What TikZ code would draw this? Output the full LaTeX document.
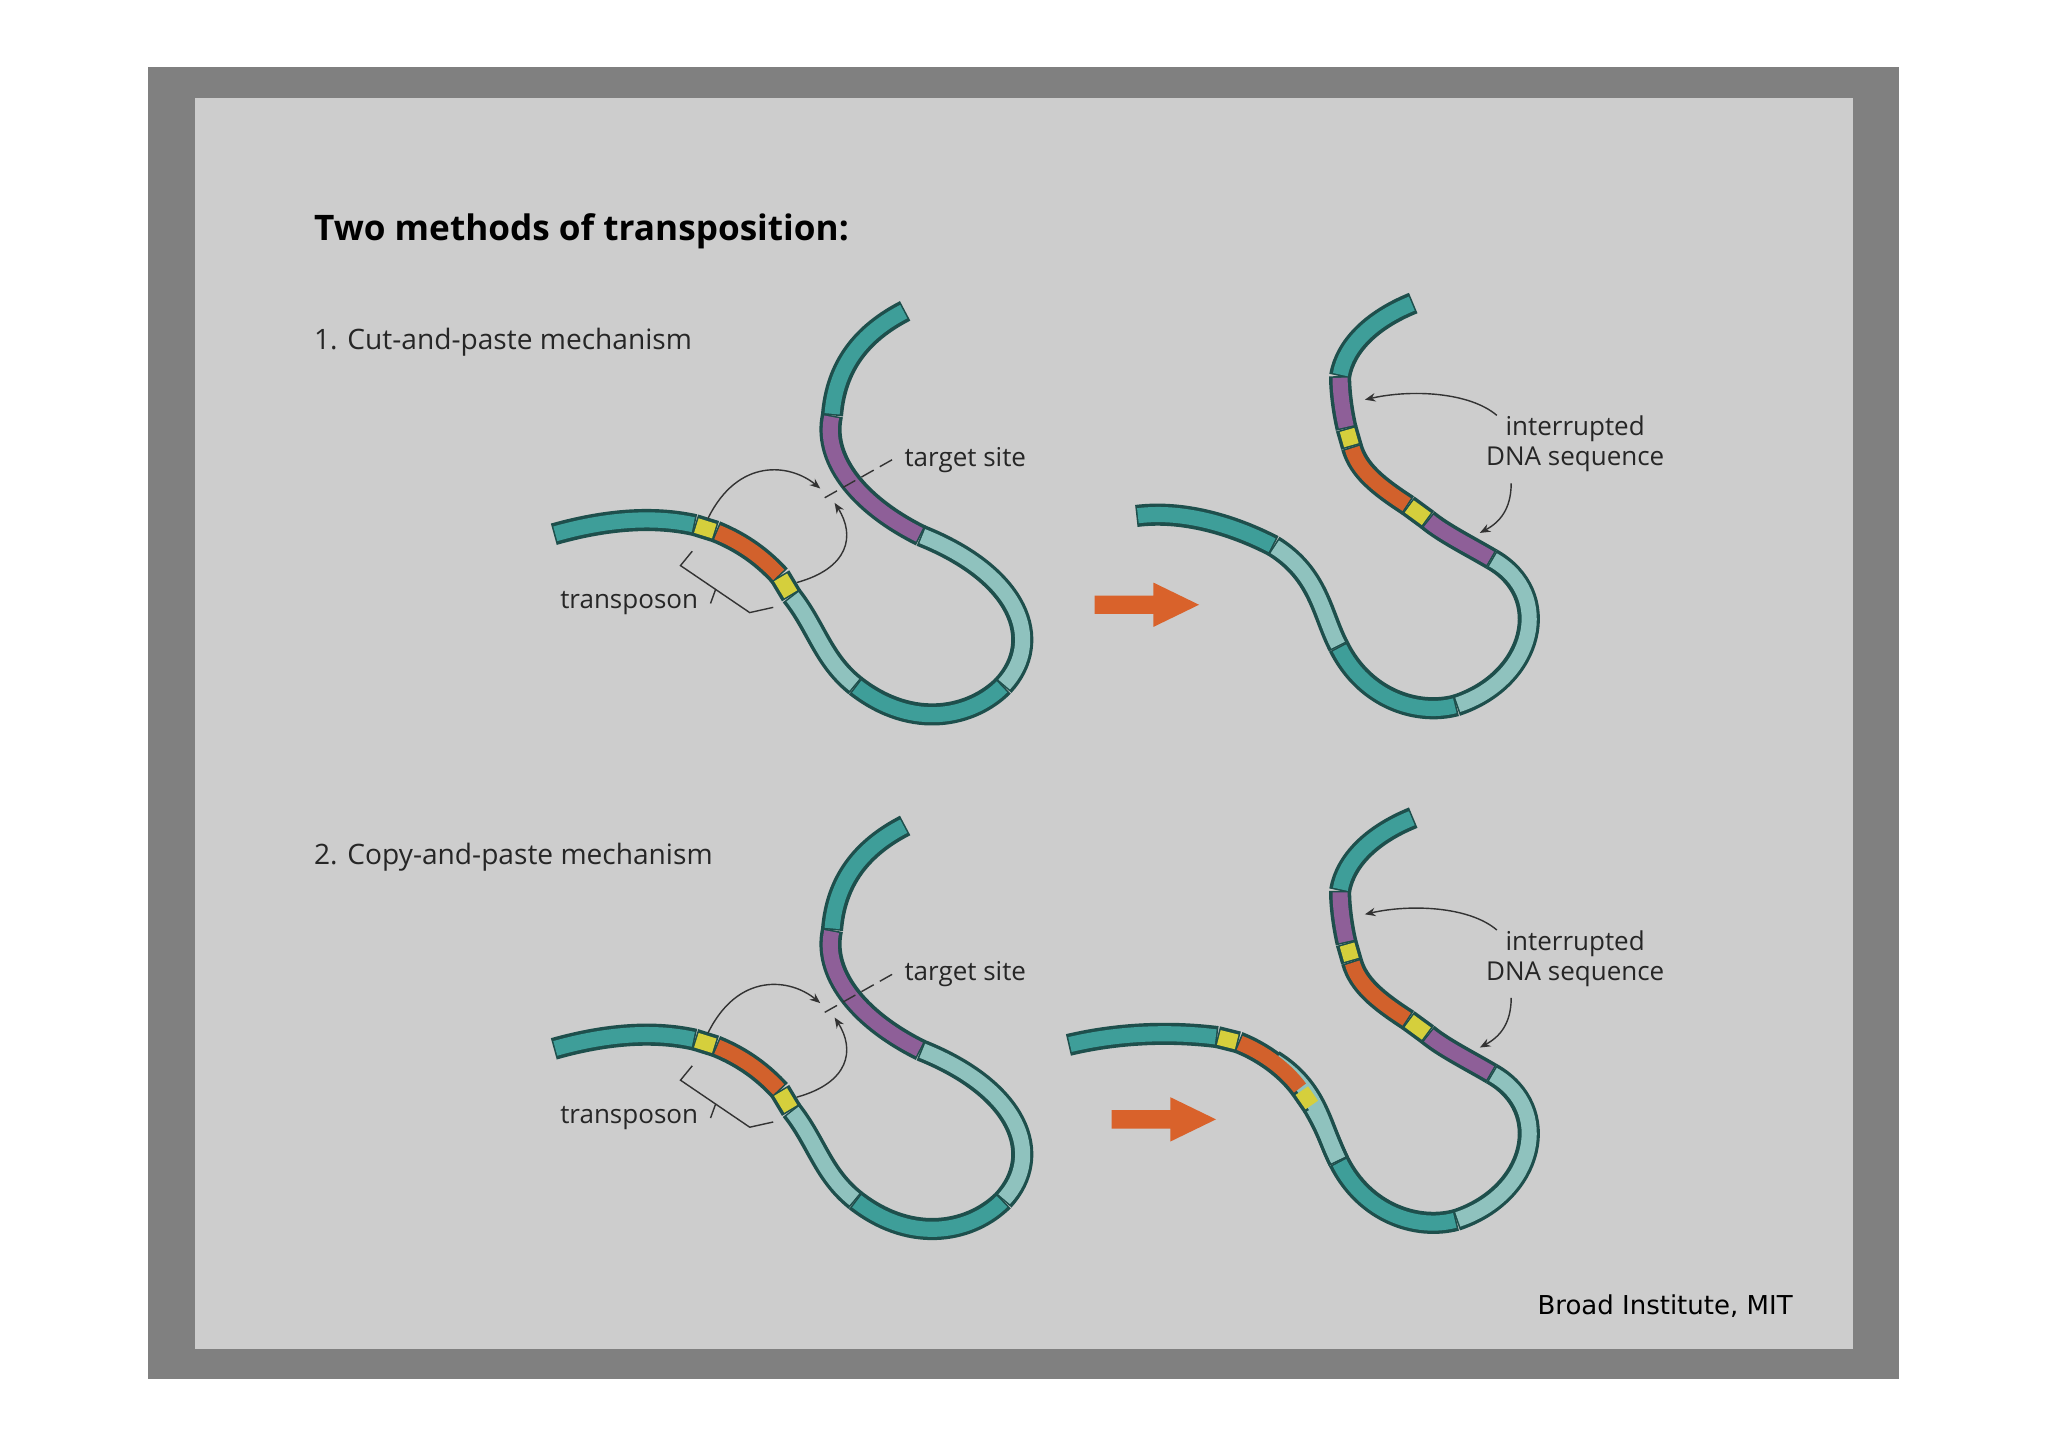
\documentclass[tikz,border=0pt]{standalone}
\usepackage{fontspec}
\setmainfont{Open Sans}
\newfontfamily\credit{DejaVu Sans}
\usetikzlibrary{positioning}
\usetikzlibrary{calc}
\usetikzlibrary{arrows.meta}

\definecolor{frame}{HTML}{808080}
\definecolor{panel}{HTML}{CDCDCD}
\definecolor{dnaline}{HTML}{1E4F4C}
\definecolor{tealA}{HTML}{3E9E99}
\definecolor{tealB}{HTML}{8FC2BE}
\definecolor{purp}{HTML}{8E5F98}
\definecolor{orng}{HTML}{D2612C}
\definecolor{yell}{HTML}{D5CF3C}
\definecolor{bigarrow}{HTML}{D9622B}

\def\pass{0}
\tikzset{
  seg/.code={\ifnum\pass=0 \pgfkeysalso{draw=dnaline,line width=6.3pt}\else
    \pgfkeysalso{draw=#1,line width=4.3pt,shorten <=0.45pt,shorten >=0.45pt}\fi},
  lbl/.style={font=\fontsize{7.4}{8.6}\selectfont,text=black!85},
  pointer/.style={thin,black!80,-{Stealth[length=3pt,width=2.4pt]}},
}

% S-shaped upper part, shared by the left strands
\newcommand\sleft{
  \draw[seg=tealB] (606,456) .. controls (625,480) and (630,505) .. (655,525);
  \draw[seg=tealA] (655,525) .. controls (700,560) and (745,548) .. (768,525);
  \draw[seg=tealB] (768,525) .. controls (800,490) and (780,440) .. (705,410);
  \draw[seg=purp]  (705,410) .. controls (655,385) and (630,350) .. (637,318);
  \draw[seg=tealA] (637,318) .. controls (640,280) and (660,255) .. (693,238);
}
\newcommand\leftarm{
  \draw[seg=tealA] (424,409) .. controls (470,396) and (505,396) .. (532,402);
  \draw[seg=yell]  (532,402) -- (548,407);
  \draw[seg=orng]  (548,407) .. controls (570,416) and (585,428) .. (597,441);
  \draw[seg=yell]  (597,441) -- (606,456);
}
% S-shaped part after insertion, shared by the right strands
\newcommand\sright{
  \draw[seg=tealB] (975,418) .. controls (1010,440) and (1012,470) .. (1025,495);
  \draw[seg=tealA] (1025,495) .. controls (1045,535) and (1085,548) .. (1115,540);
  \draw[seg=tealB] (1115,540) .. controls (1175,520) and (1190,455) .. (1142,428);
  \draw[seg=purp]  (1142,428) .. controls (1125,418) and (1105,408) .. (1093,398);
  \draw[seg=yell]  (1093,398) -- (1078,387);
  \draw[seg=orng]  (1078,387) .. controls (1055,372) and (1040,360) .. (1035,342);
  \draw[seg=yell]  (1035,342) -- (1031,328);
  \draw[seg=purp]  (1031,328) .. controls (1028,315) and (1026,300) .. (1026,288);
  \draw[seg=tealA] (1026,288) .. controls (1030,265) and (1050,245) .. (1082,232);
}
\newcommand\pastearm{
  \draw[seg=tealA] (818,406) .. controls (860,396) and (900,396) .. (932,400);
  \draw[seg=yell]  (932,400) -- (948,404);
  \draw[seg=orng]  (948,404) .. controls (968,412) and (985,425) .. (996,440);
  \draw[seg=yell]  (996,440) -- (1005,453);
  \draw[seg=tealB] (1005,453) .. controls (1015,470) and (1018,480) .. (1025,495);
}

\begin{document}
\begin{tikzpicture}[x=0.01306cm,y=-0.01306cm]
  \useasboundingbox (0,0) rectangle (1568,1108);
  \fill[frame] (113,51) rectangle (1454,1056);
  \fill[panel] (149,75) rectangle (1419,1033);

  \node[anchor=west,font=\fontsize{10}{12}\selectfont\bfseries] (title) at (231,177) {Two methods of transposition:};
  \node[lbl,anchor=west,font=\fontsize{8}{10}\selectfont] (m1) at (231,262) {1. Cut-and-paste mechanism};
  \node[lbl,anchor=west,font=\fontsize{8}{10}\selectfont] (m2) at (231,656) {2. Copy-and-paste mechanism};
  \node[anchor=east,font=\credit\fontsize{7.4}{9}\selectfont] (src) at (1382,1000) {Broad Institute, MIT};

  \foreach \dy/\copyrow in {0/0,394/1}{
    \begin{scope}[yshift=-\dy*0.01306cm]
      % donor strands and target strands
      \def\pass{0}\leftarm\sleft
      \def\pass{1}\leftarm\sleft
      \def\pass{0}\sright
      \ifnum\copyrow=1 \pastearm \else
        \draw[seg=tealA] (870,395) .. controls (910,390) and (950,405) .. (975,418); \fi
      \def\pass{1}\sright
      \ifnum\copyrow=1 \pastearm \else
        \draw[seg=tealA] (870,395) .. controls (910,390) and (950,405) .. (975,418); \fi

      % target site and jumps
      \node[lbl,anchor=west] (ts) at (683,352) {target site};
      \coordinate (tsa) at (664,360);
      \coordinate (tsb) at (628,383);
      \draw[thin,black!80,dash pattern=on 4pt off 2pt] (ts.west) -- (tsb);
      \coordinate (j1a) at (542,397);
      \coordinate (j1b) at (628,374);
      \coordinate (j2a) at (610,446);
      \coordinate (j2b) at (639,385);
      \draw[pointer] (j1a) .. controls (565,350) and (605,355) .. (j1b);
      \draw[pointer] (j2a) .. controls (650,435) and (655,410) .. (j2b);

      % transposon bracket
      \node[lbl,anchor=east] (tp) at (544,462) {transposon};
      \draw[thin,black!80] (530,422) -- (521,433) -- (574,469) -- (592,465);
      \draw[thin,black!80] (tp.east) -- (548,451);

      % interrupted sequence
      \node[lbl,align=center] (ids) at (1206,340) {interrupted\\DNA sequence};
      \coordinate (ida) at (1045,306);
      \coordinate (idb) at (1133,408);
      \draw[pointer] (1146,318) .. controls (1125,300) and (1080,298) .. (ida);
      \draw[pointer] (1157,370) .. controls (1157,390) and (1148,400) .. (idb);
    \end{scope}
  }

  % step arrows
  \foreach \ax/\ay in {838/463,851/857}{
    \fill[bigarrow] (\ax,\ay-7) -- (\ax+45,\ay-7) -- (\ax+45,\ay-17)
      -- (\ax+80,\ay) -- (\ax+45,\ay+17) -- (\ax+45,\ay+7) -- (\ax,\ay+7) -- cycle;
  }
\end{tikzpicture}
\end{document}
